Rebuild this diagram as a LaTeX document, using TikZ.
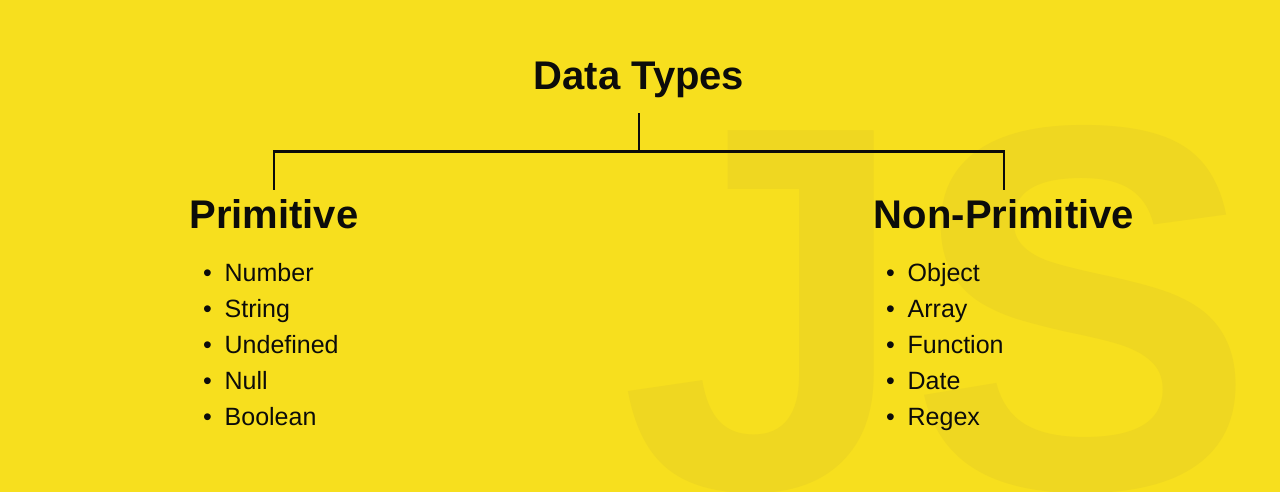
\documentclass[tikz,border=0pt]{standalone}
\usepackage{fontspec}
\setmainfont{Liberation Sans}
\definecolor{bg}{RGB}{247,223,30}
\definecolor{wm}{RGB}{239,215,33}
\definecolor{ink}{RGB}{12,12,10}
\tikzset{
  head/.style={font=\fontsize{40}{44}\selectfont\bfseries, text=ink, inner sep=0pt, anchor=base},
  item/.style={font=\fontsize{25}{28}\selectfont, text=ink, inner sep=0pt, anchor=base west},
  conn/.style={draw=ink, line width=2.5pt},
}
\newcommand{\bul}[1]{\makebox[21.5pt][l]{\textbullet}#1}
\begin{document}
\begin{tikzpicture}[x=1pt,y=-1pt]
\useasboundingbox (0,0) rectangle (1280,492);
\fill[bg] (0,0) rectangle (1280,492);
\begin{scope}
\clip (0,0) rectangle (1280,492);
\node[font=\fontsize{520}{520}\selectfont\bfseries, text=wm, inner sep=0pt, anchor=base west] (wmk) at (620,488) {JS};
\end{scope}
\node[head] (title) at (639,90) {Data Types};
\node[head] (prim) at (274,228) {Primitive};
\node[head] (nonprim) at (1004,228) {Non-Primitive};
\draw[conn] ([yshift=-14.6pt]title.south) -- ++(0,38.5) coordinate (junc);
\draw[conn] (junc) -| ([yshift=9pt]prim.north);
\draw[conn] (junc) -| ([yshift=9pt]nonprim.north);
\node[item] (p1) at (203,281) {\bul{Number}};
\node[item] (p2) at (203,317) {\bul{String}};
\node[item] (p3) at (203,353) {\bul{Undefined}};
\node[item] (p4) at (203,389) {\bul{Null}};
\node[item] (p5) at (203,425) {\bul{Boolean}};
\node[item] (n1) at (886,281) {\bul{Object}};
\node[item] (n2) at (886,317) {\bul{Array}};
\node[item] (n3) at (886,353) {\bul{Function}};
\node[item] (n4) at (886,389) {\bul{Date}};
\node[item] (n5) at (886,425) {\bul{Regex}};
\end{tikzpicture}
\end{document}
